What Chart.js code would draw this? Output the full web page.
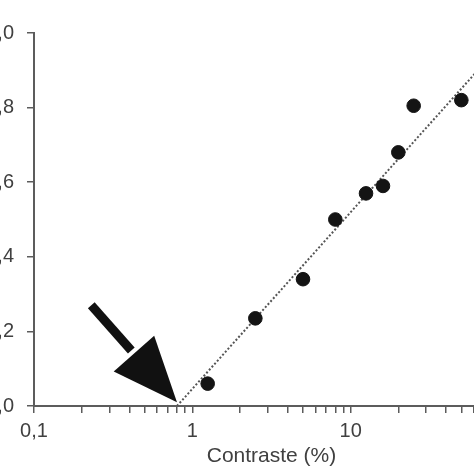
<!DOCTYPE html>
<html>
<head>
<meta charset="utf-8">
<script src="https://cdn.jsdelivr.net/npm/chart.js@4/dist/chart.umd.min.js"></script>
<style>
html,body{margin:0;padding:0;background:#fff;overflow:hidden;width:474px;height:474px;}
#wrap{position:relative;width:474px;height:474px;overflow:hidden;}
#c{position:absolute;left:-50px;top:0;}
</style>
</head>
<body>
<div id="wrap"><canvas id="c" width="600" height="474"></canvas></div>
<script>
// ---- data ----
const contrastPct = [1.25, 2.5, 5, 8, 12.5, 16, 20, 25, 50];
const responseVal = [0.06, 0.235, 0.34, 0.50, 0.57, 0.59, 0.68, 0.805, 0.82];
const fitX = [0.8, 62];
const fitY = [0, 0.895];
const xTickValues = [0.1,0.2,0.3,0.4,0.5,0.6,0.7,0.8,0.9,1,2,3,4,5,6,7,8,9,10,20,30,40,50,60,70,80,90,100];
const xTickLabels = {0.1:'0,1', 1:'1', 10:'10', 100:'100'};
const yTickValues = [0, 0.2, 0.4, 0.6, 0.8, 1.0];
const arrowTail = [0.23, 0.27];
const arrowTip = [0.8, 0.01];
const xTitle = 'Contraste (%)';

const axisColor = '#5c5c5c';
const textColor = '#404040';
const tickFont = {family: '"Liberation Sans", Arial, sans-serif', size: 20};
const titleFont = {family: '"Liberation Sans", Arial, sans-serif', size: 21};

const arrowPlugin = {
  id: 'arrow',
  afterDatasetsDraw(chart) {
    const {ctx, scales: {x, y}} = chart;
    const tx = x.getPixelForValue(arrowTail[0]), ty = y.getPixelForValue(arrowTail[1]);
    const px = x.getPixelForValue(arrowTip[0]), py = y.getPixelForValue(arrowTip[1]);
    const dx = px - tx, dy = py - ty, L = Math.hypot(dx, dy);
    const ux = dx / L, uy = dy / L, nx = -uy, ny = ux;
    const headLen = 65, headW = 54, shaftW = 9, gap = 4;
    const bx = px - ux * headLen, by = py - uy * headLen;
    ctx.save();
    ctx.fillStyle = '#111';
    ctx.beginPath();
    ctx.moveTo(px, py);
    ctx.lineTo(bx + nx * headW / 2, by + ny * headW / 2);
    ctx.lineTo(bx - nx * headW / 2, by - ny * headW / 2);
    ctx.closePath();
    ctx.fill();
    const ex = bx - ux * gap, ey = by - uy * gap;
    ctx.strokeStyle = '#111';
    ctx.lineWidth = shaftW;
    ctx.lineCap = 'butt';
    ctx.beginPath();
    ctx.moveTo(tx, ty);
    ctx.lineTo(ex, ey);
    ctx.stroke();
    ctx.restore();
  }
};

new Chart(document.getElementById('c'), {
  type: 'scatter',
  data: {
    datasets: [
      {
        type: 'line',
        data: fitX.map((v, i) => ({x: v, y: fitY[i]})),
        borderColor: '#555',
        borderWidth: 2,
        borderDash: [2, 2],
        pointRadius: 0,
        fill: false,
        order: 2
      },
      {
        data: contrastPct.map((v, i) => ({x: v, y: responseVal[i]})),
        backgroundColor: '#141414',
        borderColor: '#141414',
        pointRadius: 6.8,
        pointHoverRadius: 6.8,
        order: 1
      }
    ]
  },
  options: {
    responsive: false,
    animation: false,
    devicePixelRatio: 1,
    layout: {padding: {left: 0, right: 41, top: 33, bottom: 0}},
    plugins: {legend: {display: false}, tooltip: {enabled: false}},
    scales: {
      x: {
        type: 'logarithmic',
        min: 0.1, max: 100,
        afterBuildTicks(s) { s.ticks = xTickValues.map(v => ({value: v})); },
        afterFit(s) { s.height = 68; },
        grid: {drawOnChartArea: false, drawTicks: true, tickLength: 7, color: axisColor, lineWidth: 1.5},
        border: {display: true, color: axisColor, width: 2},
        ticks: {
          autoSkip: false, maxRotation: 0, padding: 6,
          color: textColor, font: tickFont,
          callback: (v) => xTickLabels[v] !== undefined ? xTickLabels[v] : ''
        },
        title: {display: true, text: xTitle, color: textColor, font: titleFont, padding: {top: 0, bottom: 5}}
      },
      y: {
        min: 0, max: 1,
        afterBuildTicks(s) { s.ticks = yTickValues.map(v => ({value: v})); },
        afterFit(s) { s.width = 84; },
        grid: {drawOnChartArea: false, drawTicks: true, tickLength: 7, color: axisColor, lineWidth: 1.5},
        border: {display: true, color: axisColor, width: 2},
        ticks: {
          padding: 13, color: textColor, font: tickFont,
          callback: (v) => Number(v).toFixed(1).replace('.', ',')
        }
      }
    }
  },
  plugins: [arrowPlugin]
});
</script>
</body>
</html>
